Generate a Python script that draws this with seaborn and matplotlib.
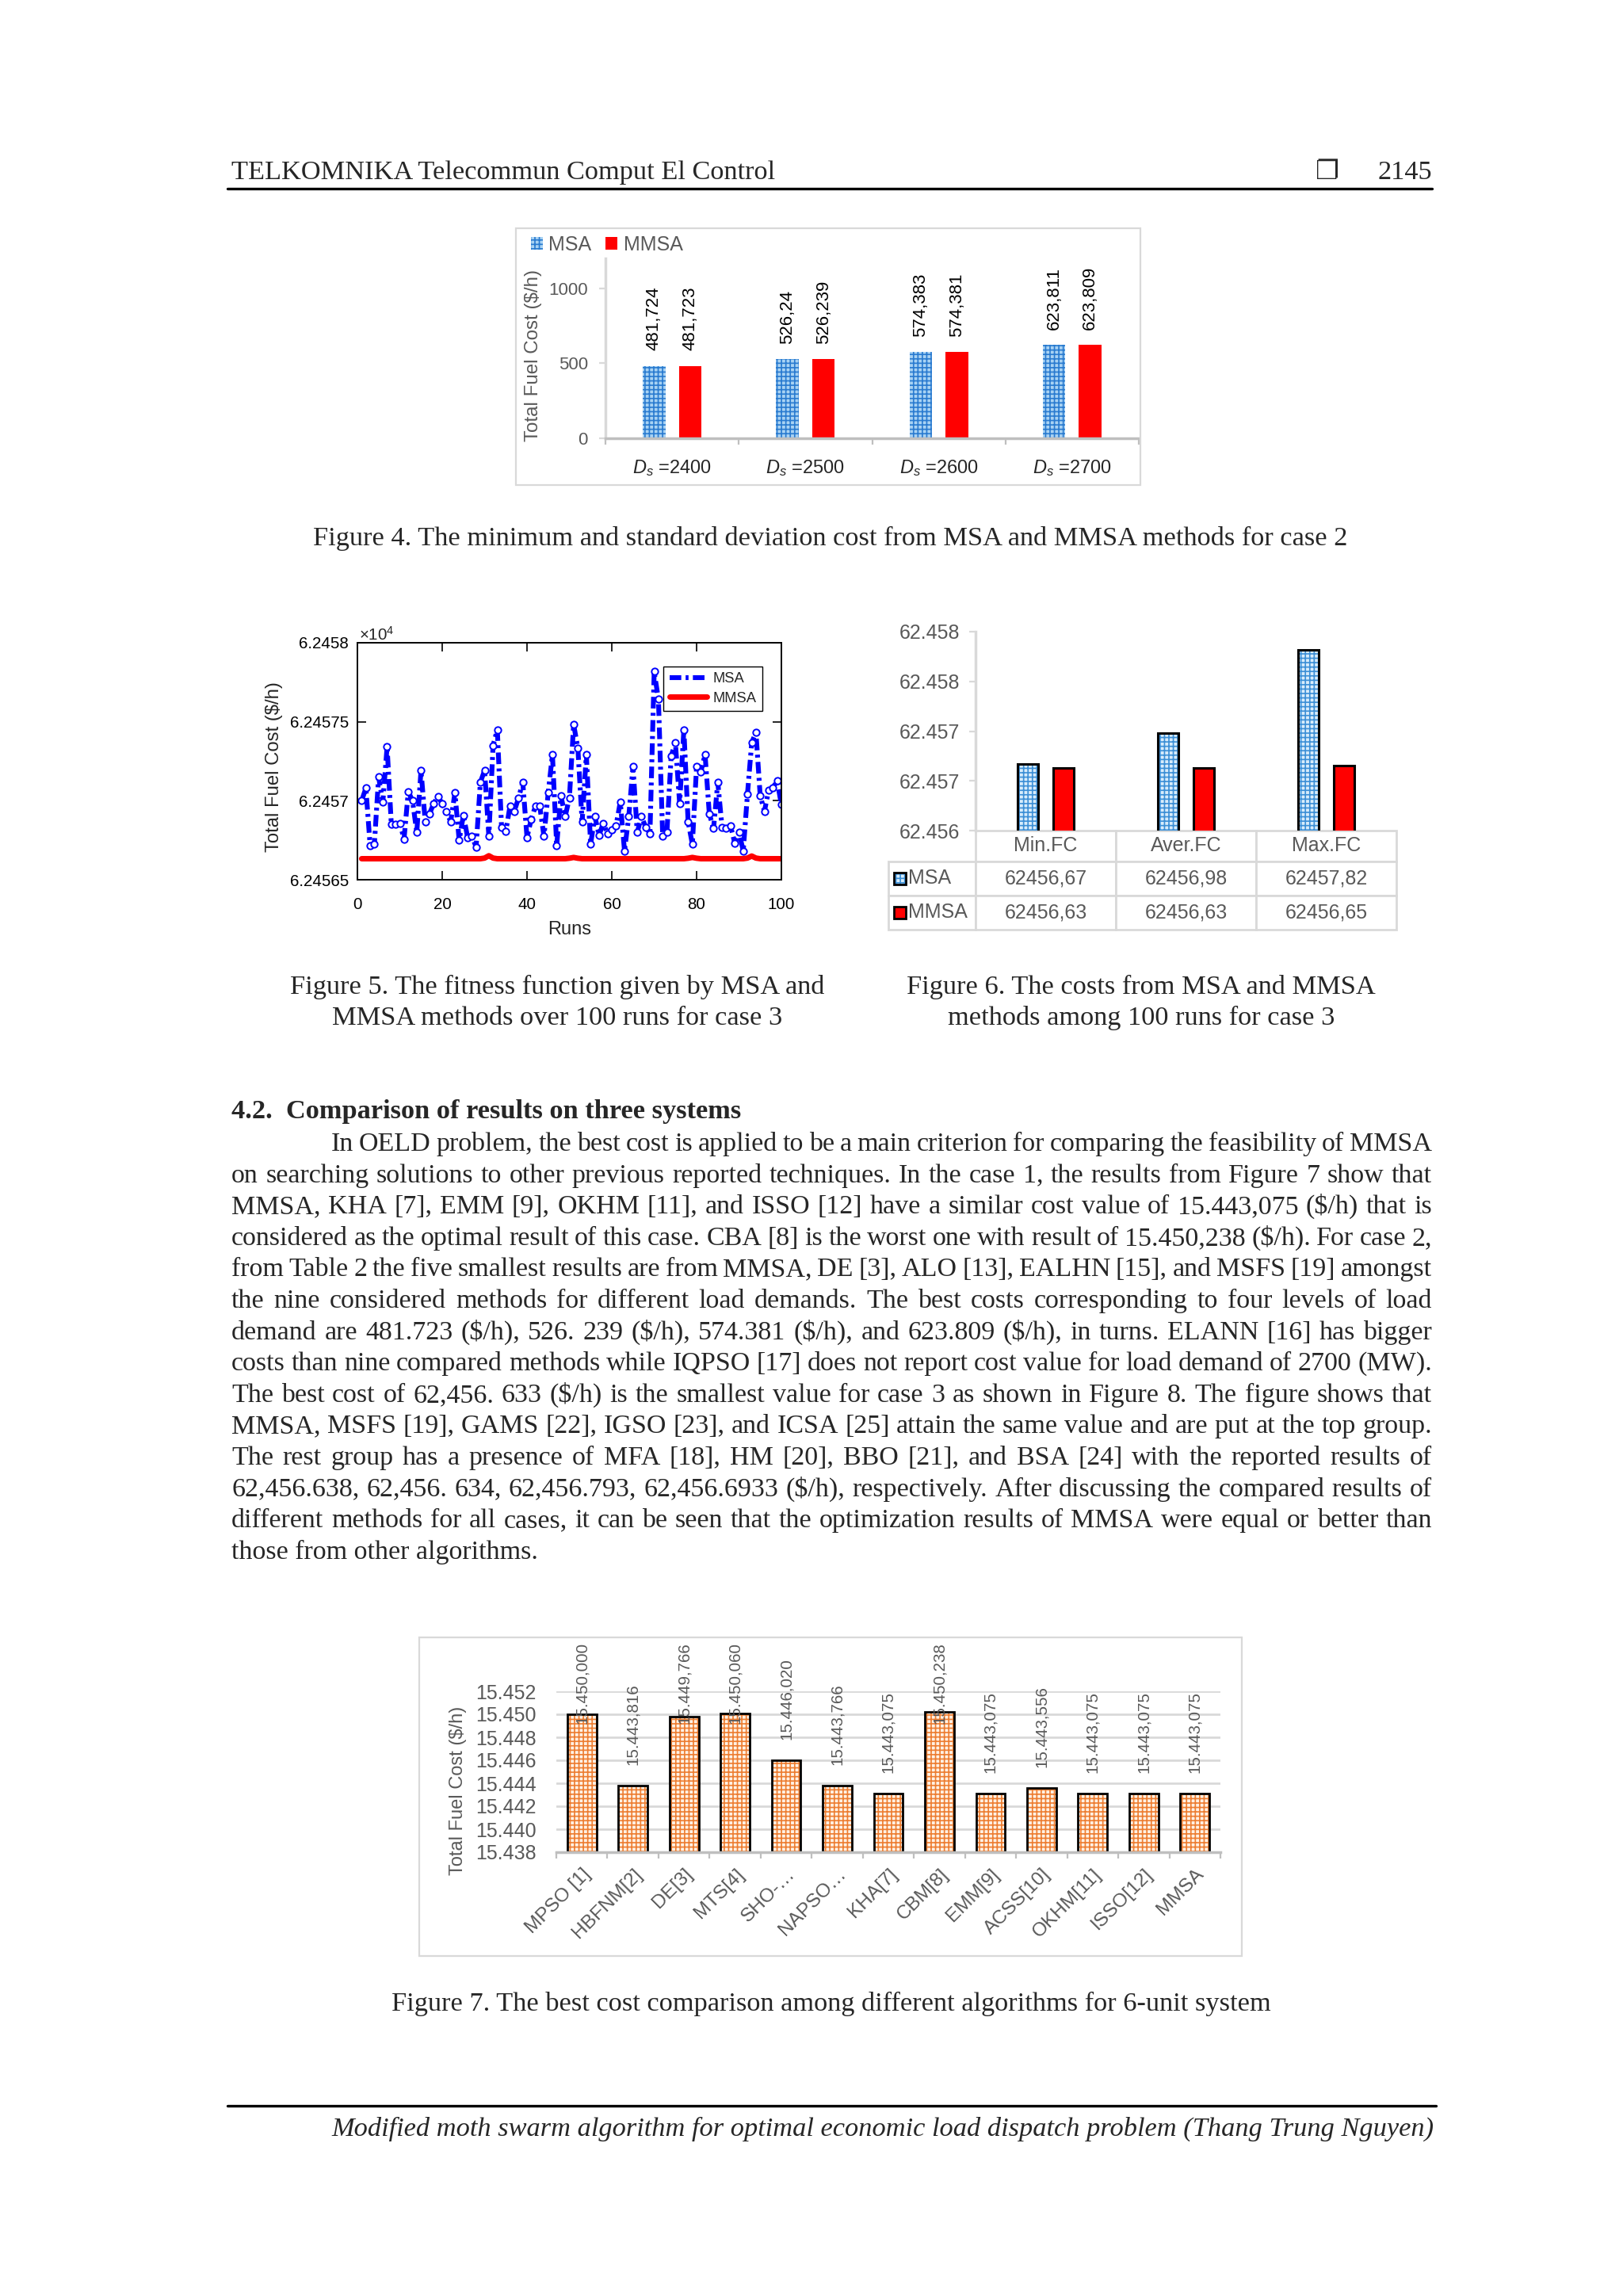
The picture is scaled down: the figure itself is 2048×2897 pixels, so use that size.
import matplotlib
matplotlib.use("Agg")
import matplotlib.pyplot as plt
from matplotlib.patches import Patch, Rectangle
from matplotlib.lines import Line2D
from matplotlib.table import Table
import pandas as pd
import seaborn as sns

W, H = 2048, 2897

# ---------------- data ----------------
# Figure 4: minimum cost for case 2
loads = ["2400", "2500", "2600", "2700"]
fig4_msa = [481.724, 526.24, 574.383, 623.811]
fig4_mmsa = [481.723, 526.239, 574.381, 623.809]

# Figure 5: fitness over 100 runs for case 3
runs = list(range(1, 101))
fig5_msa = [
    62457.000, 62457.080, 62456.717, 62456.725, 62457.150, 62456.992, 62457.342, 62456.850, 62456.850, 62456.858,
    62456.758, 62457.058, 62457.000, 62456.800, 62457.192, 62456.867, 62456.917, 62456.983, 62457.025, 62456.983,
    62456.933, 62456.867, 62457.050, 62456.750, 62456.908, 62456.767, 62456.775, 62456.708, 62457.117, 62457.192,
    62456.775, 62457.350, 62457.450, 62456.833, 62456.808, 62456.967, 62456.933, 62457.017, 62457.117, 62456.767,
    62456.883, 62456.967, 62456.967, 62456.775, 62457.050, 62457.292, 62456.717, 62457.033, 62456.900, 62457.017,
    62457.483, 62457.333, 62456.867, 62457.292, 62456.725, 62456.900, 62456.783, 62456.858, 62456.792, 62456.817,
    62456.842, 62456.992, 62456.683, 62456.900, 62457.217, 62456.800, 62456.900, 62456.833, 62456.792, 62457.817,
    62457.642, 62456.775, 62456.800, 62457.283, 62457.367, 62456.983, 62457.450, 62456.867, 62456.725, 62457.217,
    62457.183, 62457.292, 62456.917, 62456.825, 62457.117, 62456.833, 62456.825, 62456.842, 62456.733, 62456.800,
    62456.683, 62457.042, 62457.367, 62457.433, 62457.033, 62456.933, 62457.067, 62457.083, 62457.125, 62456.975,
]
fig5_mmsa = [
    62456.633, 62456.633, 62456.633, 62456.633, 62456.633, 62456.633, 62456.633, 62456.633, 62456.633, 62456.633,
    62456.633, 62456.633, 62456.633, 62456.633, 62456.633, 62456.633, 62456.633, 62456.633, 62456.633, 62456.633,
    62456.633, 62456.633, 62456.633, 62456.633, 62456.633, 62456.633, 62456.633, 62456.633, 62456.633, 62456.637,
    62456.652, 62456.637, 62456.633, 62456.633, 62456.633, 62456.633, 62456.633, 62456.633, 62456.633, 62456.633,
    62456.633, 62456.633, 62456.633, 62456.633, 62456.633, 62456.633, 62456.633, 62456.633, 62456.633, 62456.636,
    62456.641, 62456.636, 62456.633, 62456.633, 62456.633, 62456.633, 62456.633, 62456.633, 62456.633, 62456.633,
    62456.633, 62456.633, 62456.633, 62456.633, 62456.633, 62456.633, 62456.633, 62456.633, 62456.633, 62456.633,
    62456.633, 62456.633, 62456.633, 62456.633, 62456.633, 62456.633, 62456.633, 62456.636, 62456.641, 62456.636,
    62456.633, 62456.633, 62456.633, 62456.633, 62456.633, 62456.633, 62456.633, 62456.633, 62456.633, 62456.633,
    62456.633, 62456.637, 62456.650, 62456.637, 62456.633, 62456.633, 62456.633, 62456.633, 62456.633, 62456.633,
]
fig5_yticks = [62456.5, 62457.0, 62457.5, 62458.0]

# Figure 6: min / average / max cost for case 3
fc_stats = ["Min.FC", "Aver.FC", "Max.FC"]
fig6_msa = [62456.67, 62456.98, 62457.82]
fig6_mmsa = [62456.63, 62456.63, 62456.65]
fig6_yticks = [62456.0, 62456.5, 62457.0, 62457.5, 62458.0]
fig6_yticklabels = ["62.456", "62.457", "62.457", "62.458", "62.458"]

# Figure 7: best cost for the 6-unit system
algorithms = ["MPSO [1]", "HBFNM[2]", "DE[3]", "MTS[4]", "SHO-\u2026", "NAPSO\u2026", "KHA[7]",
              "CBM[8]", "EMM[9]", "ACSS[10]", "OKHM[11]", "ISSO[12]", "MMSA"]
fig7_cost = [15450.000, 15443.816, 15449.766, 15450.060, 15446.020, 15443.766, 15443.075,
             15450.238, 15443.075, 15443.556, 15443.075, 15443.075, 15443.075]
fig7_yticks = [15438, 15440, 15442, 15444, 15446, 15448, 15450, 15452]

body_lines = [
    "In OELD problem, the best cost is applied to be a main criterion for comparing the feasibility of MMSA",
    "on searching solutions to other previous reported techniques. In the case 1, the results from Figure 7 show that",
    "MMSA, KHA [7], EMM [9], OKHM [11], and ISSO [12] have a similar cost value of 15.443,075 ($/h) that is",
    "considered as the optimal result of this case. CBA [8] is the worst one with result of 15.450,238 ($/h). For case 2,",
    "from Table 2 the five smallest results are from MMSA, DE [3], ALO [13], EALHN [15], and MSFS [19] amongst",
    "the nine considered methods for different load demands. The best costs corresponding to four levels of load",
    "demand are 481.723 ($/h), 526. 239 ($/h), 574.381 ($/h), and 623.809 ($/h), in turns. ELANN [16] has bigger",
    "costs than nine compared methods while IQPSO [17] does not report cost value for load demand of 2700 (MW).",
    "The best cost of 62,456. 633 ($/h) is the smallest value for case 3 as shown in Figure 8. The figure shows that",
    "MMSA, MSFS [19], GAMS [22], IGSO [23], and ICSA [25] attain the same value and are put at the top group.",
    "The rest group has a presence of MFA [18], HM [20], BBO [21], and BSA [24] with the reported results of",
    "62,456.638, 62,456. 634, 62,456.793, 62,456.6933 ($/h), respectively. After discussing the compared results of",
    "different methods for all cases, it can be seen that the optimization results of MMSA were equal or better than",
    "those from other algorithms.",
]

# ---------------- style ----------------
sns.set_theme(style="white")
plt.rcParams["font.family"] = ["Liberation Sans", "DejaVu Sans"]
plt.rcParams.update({
    "mathtext.fontset": "custom",
    "mathtext.rm": "Liberation Sans",
    "mathtext.it": "Liberation Sans:italic",
    "hatch.linewidth": 0.6,
})
SERIF = ["Liberation Serif", "DejaVu Serif"]
GREY = "#595959"


def box(x0, y0, x1, y1):
    return [x0 / W, 1 - y1 / H, (x1 - x0) / W, (y1 - y0) / H]


def fx(x):
    return x / W


def fy(y):
    return 1 - y / H


fig = plt.figure(figsize=(W / 200, H / 200), dpi=200)
fig.patch.set_facecolor("white")


def frame(x0, y0, x1, y1):
    fig.add_artist(Rectangle((fx(x0), fy(y1)), (x1 - x0) / W, (y1 - y0) / H,
                             transform=fig.transFigure, fill=False, edgecolor="#d9d9d9", lw=0.8))


def outline(ax, bars, lw):
    for bar in bars:
        ax.add_patch(Rectangle((bar.get_x(), bar.get_y()), bar.get_width(), bar.get_height(),
                               fill=False, edgecolor="black", lw=lw))


# ---------------- Figure 4 ----------------
frame(651, 288, 1439, 612)
ax4 = fig.add_axes(box(764, 326, 1437, 553))
df4 = pd.DataFrame({"load": loads, "MSA": fig4_msa, "MMSA": fig4_mmsa}).melt(
    id_vars="load", var_name="method", value_name="cost")
sns.barplot(data=df4, x="load", y="cost", hue="method", palette=["#a8d2f3", "#ff0000"],
            saturation=1, width=0.54, gap=0.37, errorbar=None, legend=False, ax=ax4)
for bar in ax4.containers[0]:
    bar.set_hatch("++++++")
    bar.set_edgecolor("#2a7bd0")
    bar.set_linewidth(0)
for bar in ax4.containers[1]:
    bar.set_linewidth(0)
for cont, vals in zip(ax4.containers, [fig4_msa, fig4_mmsa]):
    ax4.bar_label(cont, labels=[f"{v:g}".replace(".", ",") for v in vals], rotation=90,
                  padding=7, fontsize=8, color="black")
ax4.set_ylim(0, 1200)
ax4.set_yticks([0, 500, 1000])
ax4.set_xticks(range(len(loads)))
ax4.set_xticklabels([rf"$D_s$ ={l}" for l in loads])
ax4.set_xticks([-0.5, 0.5, 1.5, 2.5, 3.5], minor=True)
ax4.tick_params(axis="x", which="major", bottom=False, length=0, pad=9, labelsize=8.5, labelcolor="#262626")
ax4.tick_params(axis="x", which="minor", bottom=True, length=3, width=0.8, color="#bfbfbf", direction="out")
ax4.tick_params(axis="y", left=True, length=3, width=0.8, color="#d9d9d9", pad=5, labelsize=8, labelcolor=GREY)
for s in ["top", "right"]:
    ax4.spines[s].set_visible(False)
ax4.spines["left"].set_color("#d9d9d9")
ax4.spines["bottom"].set_color("#bfbfbf")
ax4.set_xlabel("")
ax4.set_ylabel("Total Fuel Cost ($/h)", fontsize=8.7, color=GREY)
ax4.yaxis.set_label_coords(-0.119, 0.46)
h4 = [Patch(facecolor="#a8d2f3", edgecolor="#2a7bd0", hatch="++++++", lw=0, label="MSA"),
      Patch(facecolor="#ff0000", lw=0, label="MMSA")]
ax4.legend(handles=h4, loc="center left", bbox_to_anchor=(fx(670), fy(309)), bbox_transform=fig.transFigure,
           ncol=2, frameon=False, fontsize=9, handlelength=0.6, handleheight=0.6, handletextpad=0.3,
           columnspacing=0.7, borderpad=0, borderaxespad=0, labelcolor=GREY)

# ---------------- Figure 5 ----------------
ax5 = fig.add_axes(box(451, 811, 986, 1110))
sns.lineplot(x=runs, y=fig5_msa, color="#0000ff", lw=2.2, marker="o", ms=3, mfc="white",
             mec="#0000ff", mew=0.7, errorbar=None, ax=ax5)
sns.lineplot(x=runs, y=fig5_mmsa, color="#ff0000", lw=2.5, errorbar=None, ax=ax5)
ax5.lines[0].set_dashes([2.4, 0.9, 0.6, 0.9])
ax5.set_xlim(0, 100)
ax5.set_ylim(62456.5, 62458)
ax5.set_xticks([0, 20, 40, 60, 80, 100])
ax5.set_yticks(fig5_yticks)
ax5.set_yticklabels([f"{v / 1e4:g}" for v in fig5_yticks])
ax5.tick_params(axis="both", direction="in", top=True, right=True, bottom=True, left=True,
                length=4, width=0.6, labelsize=7.4, colors="black")
ax5.tick_params(axis="x", pad=8)
ax5.tick_params(axis="y", pad=4)
for s in ax5.spines.values():
    s.set_color("black")
    s.set_linewidth(0.7)
ax5.set_xlabel("Runs", fontsize=8.5, color="#262626")
ax5.xaxis.set_label_coords(0.5, -0.175)
ax5.set_ylabel("Total Fuel Cost ($/h)", fontsize=8.6, color="#262626")
ax5.yaxis.set_label_coords(-0.175, 0.475)
fig.text(fx(453), fy(808), r"×10$^{4}$", fontsize=7.4, ha="left", va="baseline", color="#262626")
h5 = [Line2D([], [], color="#0000ff", lw=2.2, dashes=[2.4, 0.9, 0.6, 0.9]),
      Line2D([], [], color="#ff0000", lw=2.5)]
leg5 = ax5.legend(h5, ["MSA", "MMSA"], loc="upper right", bbox_to_anchor=(0.955, 0.9), fontsize=6.6,
                  handlelength=2.6, fancybox=False, framealpha=1, edgecolor="black", borderpad=0.4,
                  labelspacing=0.4, handletextpad=0.4, borderaxespad=0)
leg5.get_frame().set_linewidth(0.5)

# ---------------- Figure 6 ----------------
ax6 = fig.add_axes(box(1231, 797, 1762, 1048))
df6 = pd.DataFrame({"stat": fc_stats, "MSA": fig6_msa, "MMSA": fig6_mmsa}).melt(
    id_vars="stat", var_name="method", value_name="cost")
sns.barplot(data=df6, x="stat", y="cost", hue="method", palette=["#d8ecfb", "#ff0000"],
            saturation=1, width=0.51, gap=0.41, errorbar=None, legend=False, ax=ax6)
for bar in ax6.containers[0]:
    bar.set_hatch("++++++")
    bar.set_edgecolor("#3c8fd6")
    bar.set_linewidth(0)
for bar in ax6.containers[1]:
    bar.set_edgecolor("black")
    bar.set_linewidth(1.1)
outline(ax6, ax6.containers[0], 1.1)
ax6.set_ylim(62456, 62458)
ax6.set_xlim(-0.5, 2.5)
ax6.set_yticks(fig6_yticks)
ax6.set_yticklabels(fig6_yticklabels)
ax6.set_xticks([])
ax6.tick_params(axis="y", left=True, length=3, width=0.8, color="#d9d9d9", pad=4, labelsize=9, labelcolor=GREY)
for s in ["top", "right", "bottom"]:
    ax6.spines[s].set_visible(False)
ax6.spines["left"].set_color("#d9d9d9")
ax6.set_xlabel("")
ax6.set_ylabel("")

tb = Table(ax6, bbox=[-0.2072, -0.498, 1.2072, 0.498])
col_w = [110, 177, 177, 177]
for c, name in enumerate(fc_stats):
    tb.add_cell(0, c + 1, width=col_w[c + 1], height=39, text=name, loc="center", edgecolor="#d9d9d9")
for r, vals in enumerate([fig6_msa, fig6_mmsa]):
    tb.add_cell(r + 1, 0, width=col_w[0], height=43, text="", edgecolor="#d9d9d9")
    for c, v in enumerate(vals):
        tb.add_cell(r + 1, c + 1, width=col_w[c + 1], height=43, text=f"{v:.2f}".replace(".", ","),
                    loc="center", edgecolor="#d9d9d9")
tb.auto_set_font_size(False)
tb.set_fontsize(9)
for cell in tb.get_celld().values():
    cell.get_text().set_color(GREY)
    cell.set_linewidth(1.0)
ax6.add_table(tb)
for yc, name, face, hcol, hatch in [(-0.241, "MSA", "#d8ecfb", "#3c8fd6", "++++++"),
                                    (-0.412, "MMSA", "#ff0000", "#ff0000", None)]:
    ax6.add_patch(Rectangle((-0.194, yc - 0.03), 0.028, 0.06, transform=ax6.transAxes, clip_on=False,
                            facecolor=face, hatch=hatch, edgecolor=hcol, lw=0))
    ax6.add_patch(Rectangle((-0.194, yc - 0.03), 0.028, 0.06, transform=ax6.transAxes, clip_on=False,
                            fill=False, edgecolor="black", lw=1.0))
    ax6.text(-0.16, yc, name, transform=ax6.transAxes, fontsize=9, color=GREY, ha="left", va="center")

# ---------------- Figure 7 ----------------
frame(529, 2066, 1567, 2468)
ax7 = fig.add_axes(box(702, 2134, 1540, 2337))
df7 = pd.DataFrame({"alg": algorithms, "cost": fig7_cost})
sns.barplot(data=df7, x="alg", y="cost", color="#fff1e4", saturation=1, width=0.57,
            errorbar=None, ax=ax7)
bars7 = list(ax7.patches)
for bar in bars7:
    bar.set_hatch("++++++")
    bar.set_edgecolor("#ed7d31")
    bar.set_linewidth(0)
outline(ax7, bars7, 1.0)
ax7.set_ylim(15438, 15452)
ax7.set_yticks(fig7_yticks)
ax7.set_yticklabels([f"{v / 1000:.3f}" for v in fig7_yticks])
ax7.yaxis.grid(True, color="#d9d9d9", lw=1.0)
ax7.set_axisbelow(True)
for bar, v in zip(bars7, fig7_cost):
    lab = f"{v:,.3f}".replace(",", "X").replace(".", ",").replace("X", ".")
    ax7.text(bar.get_x() + bar.get_width() / 2, min(v + 1.8, 15449.2), lab, rotation=90,
             ha="center", va="bottom", fontsize=7.4, color=GREY, clip_on=False)
ax7.set_xticks(range(len(algorithms)))
ax7.set_xticklabels(algorithms, rotation=45, ha="right", rotation_mode="anchor")
ax7.set_xticks([i - 0.5 for i in range(len(algorithms) + 1)], minor=True)
ax7.tick_params(axis="x", which="major", bottom=False, length=0, pad=6, labelsize=8.8, labelcolor=GREY)
ax7.tick_params(axis="x", which="minor", bottom=True, length=3, width=0.8, color="#bfbfbf", direction="out")
ax7.tick_params(axis="y", left=False, length=0, pad=9, labelsize=9, labelcolor=GREY)
for s in ["top", "right", "left"]:
    ax7.spines[s].set_visible(False)
ax7.spines["bottom"].set_color("#bfbfbf")
ax7.set_xlabel("")
ax7.set_ylabel("Total Fuel Cost ($/h)", fontsize=8.5, color=GREY)
ax7.yaxis.set_label_coords(-0.135, 0.38)

# ---------------- page text ----------------
fig.text(fx(292), fy(226), "TELKOMNIKA Telecommun Comput El Control", family=SERIF, fontsize=12.4,
         ha="left", va="baseline")
fig.text(fx(1675), fy(226), "\u2750", family=["DejaVu Sans"], fontsize=12, ha="center", va="baseline")
fig.text(fx(1807), fy(226), "2145", family=SERIF, fontsize=12.4, ha="right", va="baseline")
fig.add_artist(Line2D([fx(287), fx(1807)], [fy(238), fy(238)], transform=fig.transFigure, color="black", lw=1.2))

fig.add_artist(Line2D([fx(287), fx(1812)], [fy(2657), fy(2657)], transform=fig.transFigure, color="black", lw=1.2))
fig.text(fx(1810), fy(2695), "Modified moth swarm algorithm for optimal economic load dispatch problem (Thang Trung Nguyen)",
         family=SERIF, style="italic", fontsize=12.4, ha="right", va="baseline")

cap_kw = dict(family=SERIF, fontsize=12.4, ha="center", va="baseline")
fig.text(fx(1048), fy(688), "Figure 4. The minimum and standard deviation cost from MSA and MMSA methods for case 2", **cap_kw)
fig.text(fx(703), fy(1254), "Figure 5. The fitness function given by MSA and", **cap_kw)
fig.text(fx(703), fy(1293), "MMSA methods over 100 runs for case 3", **cap_kw)
fig.text(fx(1440), fy(1254), "Figure 6. The costs from MSA and MMSA", **cap_kw)
fig.text(fx(1440), fy(1293), "methods among 100 runs for case 3", **cap_kw)
fig.text(fx(1049), fy(2537), "Figure 7. The best cost comparison among different algorithms for 6-unit system", **cap_kw)

fig.text(fx(292), fy(1411), "4.2.  Comparison of results on three systems", family=SERIF, weight="bold",
         fontsize=12.4, ha="left", va="baseline")

# justified body paragraph
renderer = fig.canvas.get_renderer()


def width_of(s, fs):
    t = fig.text(0, 0, s, family=SERIF, fontsize=fs, parse_math=False)
    w = t.get_window_extent(renderer).width
    t.remove()
    return w


x_left, x_right, indent = 292, 1807, 126
fs = 12.4
ratio = 0.0
for i, line in enumerate(body_lines[:-1]):
    words = line.split()
    need = sum(width_of(w, fs) for w in words) + 0.2 * fs * 200 / 72 * (len(words) - 1)
    avail = x_right - x_left - (indent if i == 0 else 0)
    ratio = max(ratio, need / avail)
if ratio > 1:
    fs = fs / ratio

for i, line in enumerate(body_lines):
    y = fy(1452 + 39.6 * i)
    left = x_left + (indent if i == 0 else 0)
    if i == len(body_lines) - 1:
        fig.text(fx(left), y, line, family=SERIF, fontsize=fs, ha="left", va="baseline", parse_math=False)
        continue
    words = line.split()
    ws = [width_of(w, fs) for w in words]
    gap = (x_right - left - sum(ws)) / (len(words) - 1)
    x = left
    for w, wd in zip(words, ws):
        fig.text(fx(x), y, w, family=SERIF, fontsize=fs, ha="left", va="baseline", parse_math=False)
        x += wd + gap

fig.savefig("out.png", dpi=200)
